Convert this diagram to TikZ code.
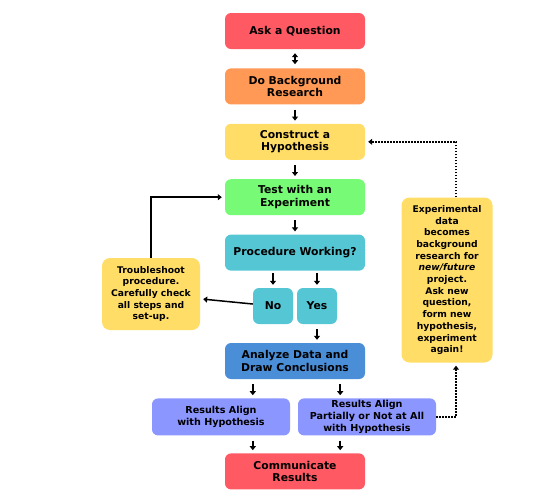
\documentclass[tikz,border=0pt]{standalone}
\usepackage{fontspec}
\setmainfont{DejaVu Sans}
\usetikzlibrary{positioning}
\usetikzlibrary{arrows.meta}

\definecolor{askred}{HTML}{FF5A64}
\definecolor{bgorange}{HTML}{FF9955}
\definecolor{hypoyellow}{HTML}{FFDD66}
\definecolor{testgreen}{HTML}{77FB77}
\definecolor{proccyan}{HTML}{55C6D4}
\definecolor{analyzeblue}{HTML}{4A8ED8}
\definecolor{resultblue}{HTML}{8C96FF}

\begin{document}
\begin{tikzpicture}[x=1pt, y=-1pt, node distance=19pt,
    box/.style={rounded corners=6pt, minimum width=140pt, minimum height=36pt, inner sep=2pt, align=center, font=\bfseries\fontsize{10.8}{12.7}\selectfont},
    smallbox/.style={box, minimum width=138pt, minimum height=37pt, font=\bfseries\fontsize{9.6}{11.7}\selectfont},
    sidebox/.style={rounded corners=8pt, fill=hypoyellow, inner sep=2pt, align=center, font=\bfseries\fontsize{9.2}{11.7}\selectfont},
    flow/.style={->, line width=1.5pt, shorten <=5pt, shorten >=3pt},
    dots/.style={->, line width=1.5pt, dash pattern=on 1.5pt off 1.5pt, shorten >=3pt},
    >={Triangle[length=4pt, width=6pt]}]
    \useasboundingbox (0,0) rectangle (548,496);

    \node[box, fill=askred] (ask) at (295,31) {Ask a Question};
    \node[box, fill=bgorange] (research) [below=of ask] {Do Background\\Research};
    \node[box, fill=hypoyellow] (hypo) [below=of research] {Construct a\\Hypothesis};
    \node[box, fill=testgreen] (test) [below=of hypo] {Test with an\\Experiment};
    \node[box, fill=proccyan] (proc) [below=of test] {Procedure Working?};
    \node[box, fill=proccyan, minimum width=40pt] (no) [below=17pt of proc, xshift=-22pt] {No};
    \node[box, fill=proccyan, minimum width=40pt] (yes) [below=17pt of proc, xshift=22pt] {Yes};
    \node[box, fill=analyzeblue] (analyze) [below=72pt of proc] {Analyze Data and\\Draw Conclusions};
    \node[smallbox, fill=resultblue] (align) [below=of analyze, xshift=-74pt] {Results Align\\with Hypothesis};
    \node[smallbox, fill=resultblue] (partial) [below=of analyze, xshift=72pt] {Results Align\\Partially or Not at All\\with Hypothesis};
    \node[box, fill=askred] (communicate) [below=74pt of analyze] {Communicate\\Results};

    \node[sidebox, minimum width=98pt, minimum height=72pt] (trouble) at (151,294) {Troubleshoot\\procedure.\\Carefully check\\all steps and\\set-up.};
    \node[sidebox, minimum width=91pt, minimum height=165pt] (note) at (447,280) {Experimental\\data\\becomes\\background\\research for\\\textit{new/future}\\project.\\Ask new\\question,\\form new\\hypothesis,\\experiment\\again!};

    % columns of the short arrows round the results
    \coordinate (leftcol) at ([xshift=28pt]analyze.south west);
    \coordinate (rightcol) at ([xshift=-25pt]analyze.south east);

    \draw[flow, <->, shorten <=4pt, shorten >=4pt] (ask) -- (research);
    \draw[flow] (research) -- (hypo);
    \draw[flow] (hypo) -- (test);
    \draw[flow] (test) -- (proc);
    \draw[flow, shorten <=2pt] (proc.south -| no) -- (no);
    \draw[flow, shorten <=2pt] (proc.south -| yes) -- (yes);
    \draw[flow, shorten <=0pt] (no) -- (trouble);
    \draw[flow, shorten <=0pt] (trouble) |- (test);
    \draw[flow] (yes) -- (analyze.north -| yes);
    \draw[flow] (leftcol) -- (leftcol |- align.north);
    \draw[flow] (rightcol) -- (rightcol |- partial.north);
    \draw[flow] (leftcol |- align.south) -- (leftcol |- communicate.north);
    \draw[flow] (rightcol |- partial.south) -- (rightcol |- communicate.north);
    \draw[dots] (partial) -| ([xshift=9pt]note.south);
    \draw[dots] ([xshift=9pt]note.north) |- (hypo);
\end{tikzpicture}
\end{document}
